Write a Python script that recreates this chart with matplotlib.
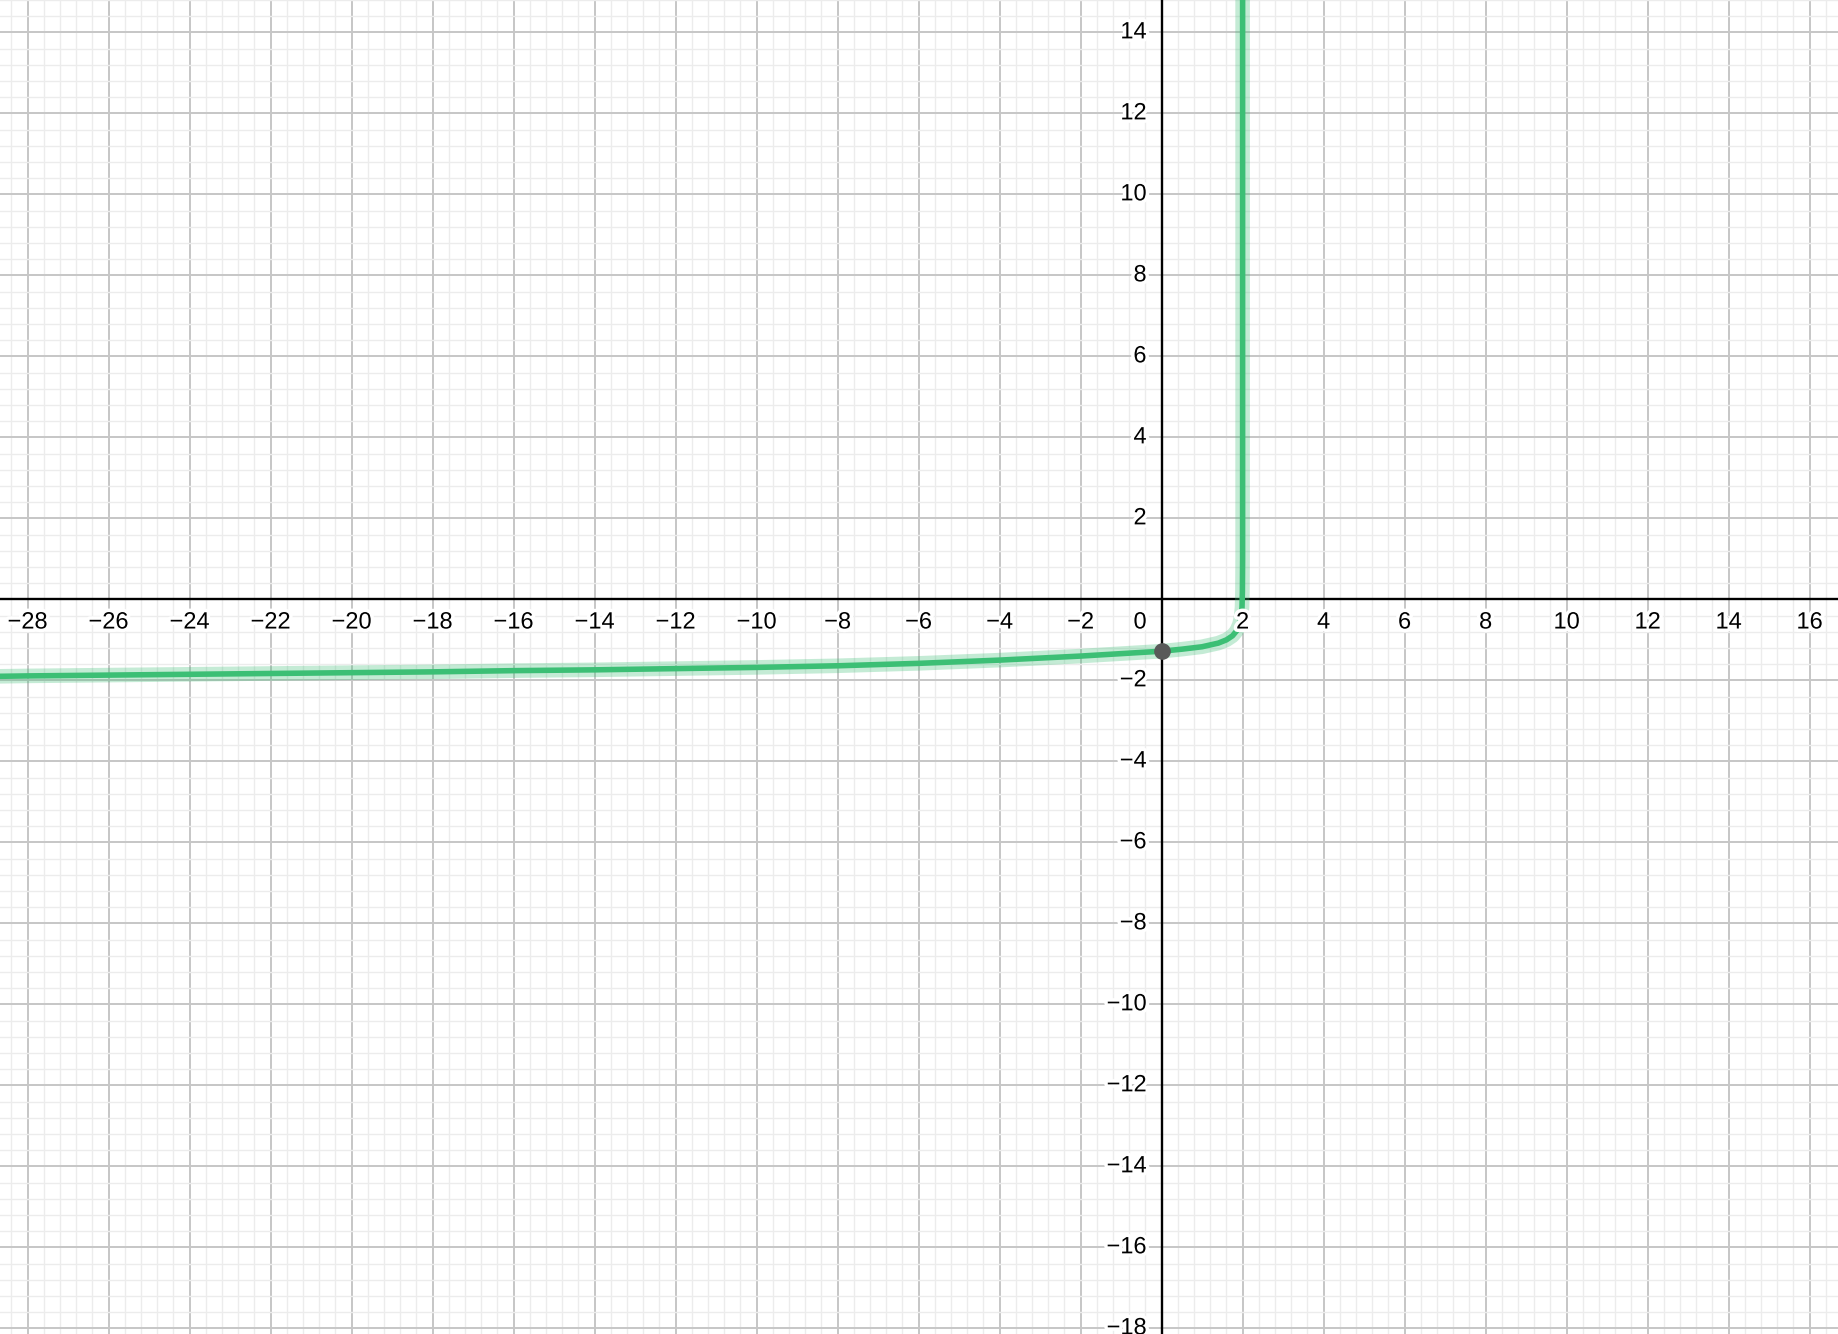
import numpy as np
import matplotlib
matplotlib.use("Agg")
import matplotlib.pyplot as plt
from matplotlib.ticker import MultipleLocator
import matplotlib.patheffects as pe

# points (x, y)
curve_x = [-28.7, -28, -24, -20, -18, -16, -14, -12, -10, -8, -6, -4, -3, -2, -1,
           0, 0.5, 1.0, 1.4, 1.6, 1.75, 1.85, 1.92, 1.96, 1.985, 1.995, 2.0, 2.0]
curve_y = [-1.90, -1.89, -1.85, -1.81, -1.79, -1.76, -1.74, -1.71, -1.68, -1.64, -1.58,
           -1.50, -1.45, -1.40, -1.34, -1.28, -1.23, -1.17, -1.08, -1.00, -0.90, -0.78,
           -0.62, -0.45, -0.20, 0.20, 1.0, 15.5]

# highlighted point
pt_x = [0]
pt_y = [-1.28]

x_ticks = [t for t in range(-28, 17, 2) if t != 0]
y_ticks = [t for t in range(-18, 15, 2) if t != 0]

xlim = (-28.68, 16.70)
ylim = (-18.14, 14.80)

fig = plt.figure(figsize=(18.38, 13.34), dpi=100)
ax = fig.add_axes([0, 0, 1, 1])
ax.set_xlim(*xlim)
ax.set_ylim(*ylim)

# grid
ax.xaxis.set_major_locator(MultipleLocator(2))
ax.yaxis.set_major_locator(MultipleLocator(2))
ax.xaxis.set_minor_locator(MultipleLocator(0.4))
ax.yaxis.set_minor_locator(MultipleLocator(0.4))
ax.grid(which="minor", color="#ececec", lw=1.0, zorder=0)
ax.grid(which="major", color="#c6c6c6", lw=1.4, zorder=0)
ax.set_axisbelow(True)
ax.tick_params(which="both", length=0, labelbottom=False, labelleft=False)
for s in ax.spines.values():
    s.set_visible(False)

# axes
ax.axhline(0, color="black", lw=1.7, zorder=2)
ax.axvline(0, color="black", lw=1.7, zorder=2)

# curve with light halo
green = "#3cbf75"
ax.plot(curve_x, curve_y, color=green, lw=10.5, alpha=0.3, solid_capstyle="butt",
        solid_joinstyle="round", zorder=3)
ax.plot(curve_x, curve_y, color=green, lw=4.0, solid_capstyle="butt",
        solid_joinstyle="round", zorder=4)
ax.plot(pt_x, pt_y, "o", color="#595959", ms=11, zorder=5)

# tick labels
halo = [pe.withStroke(linewidth=5, foreground="white")]
fs = 17
for t in x_ticks:
    ax.text(t, -0.3, str(t).replace("-", "\u2212"), ha="center", va="top",
            fontsize=fs, family="Liberation Sans", path_effects=halo, zorder=6)
for t in y_ticks:
    ax.text(-0.37, t, str(t).replace("-", "\u2212"), ha="right", va="center",
            fontsize=fs, family="Liberation Sans", path_effects=halo, zorder=6)
ax.text(-0.37, -0.3, "0", ha="right", va="top", fontsize=fs,
        family="Liberation Sans", path_effects=halo, zorder=6)

fig.savefig("out.png", dpi=100, facecolor="white")
